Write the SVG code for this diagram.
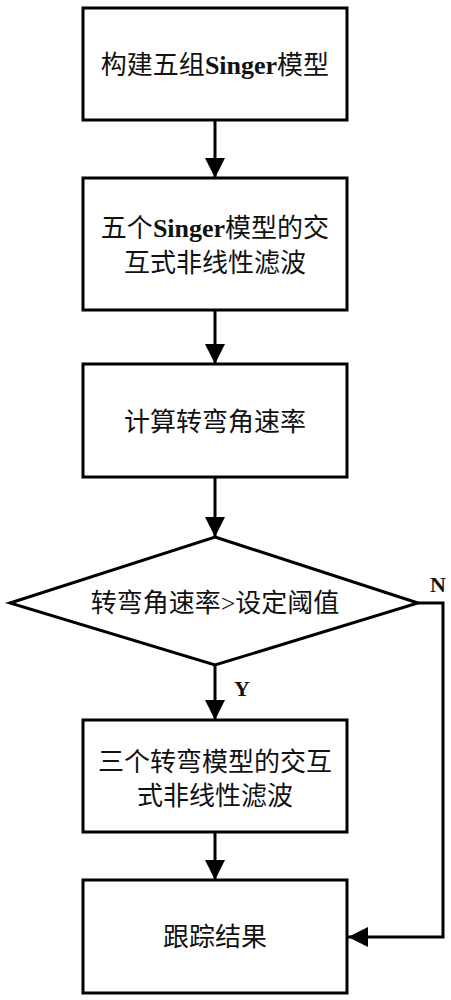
<svg xmlns="http://www.w3.org/2000/svg" width="451" height="1000" viewBox="0 0 451 1000">
<defs>
<style>
.box{fill:#fff;stroke:#000;stroke-width:3}
.t{font-family:"Liberation Serif","Noto Sans CJK SC",serif;font-size:26px;fill:#111;text-anchor:middle}
.b{font-weight:bold}
.lbl{font-family:"Liberation Serif",serif;font-size:22px;font-weight:bold;fill:#111;text-anchor:middle}
.c{fill:none;stroke:#000;stroke-width:3}
</style>
<marker id="ah" viewBox="0 0 20 20" refX="20" refY="10" markerWidth="20" markerHeight="20" markerUnits="userSpaceOnUse" orient="auto">
<path d="M0,0 L20,10 L0,20 Z" fill="#000"/>
</marker>
</defs>
<rect width="451" height="1000" fill="#fff"/>
<g id="connectors">
<line class="c" x1="215" y1="120" x2="215" y2="178" marker-end="url(#ah)"/>
<line class="c" x1="215" y1="310" x2="215" y2="364" marker-end="url(#ah)"/>
<line class="c" x1="215" y1="477" x2="215" y2="537" marker-end="url(#ah)"/>
<line class="c" x1="215" y1="665" x2="215" y2="720" marker-end="url(#ah)"/>
<line class="c" x1="215" y1="832" x2="215" y2="880" marker-end="url(#ah)"/>
<polyline class="c" points="418,603 443,603 443,937 348,937" marker-end="url(#ah)"/>
<text class="lbl" x="242" y="696">Y</text>
<text class="lbl" x="438" y="592">N</text>
</g>
<g id="n1">
<rect class="box" x="83" y="8" width="264" height="112"/>
<text class="t" x="215" y="74">构建五组<tspan class="b">Singer</tspan>模型</text>
</g>
<g id="n2">
<rect class="box" x="83" y="178" width="264" height="132"/>
<text class="t" x="215" y="237">五个<tspan class="b">Singer</tspan>模型的交</text>
<text class="t" x="215" y="272">互式非线性滤波</text>
</g>
<g id="n3">
<rect class="box" x="83" y="364" width="264" height="113"/>
<text class="t" x="215" y="431">计算转弯角速率</text>
</g>
<g id="n4">
<polygon class="box" points="215,537 418,603 215,665 10,603"/>
<text class="t" x="215" y="612">转弯角速率&gt;设定阈值</text>
</g>
<g id="n5">
<rect class="box" x="83" y="720" width="264" height="112"/>
<text class="t" x="215" y="771">三个转弯模型的交互</text>
<text class="t" x="215" y="805">式非线性滤波</text>
</g>
<g id="n6">
<rect class="box" x="83" y="880" width="264" height="113"/>
<text class="t" x="215" y="946">跟踪结果</text>
</g>
</svg>
